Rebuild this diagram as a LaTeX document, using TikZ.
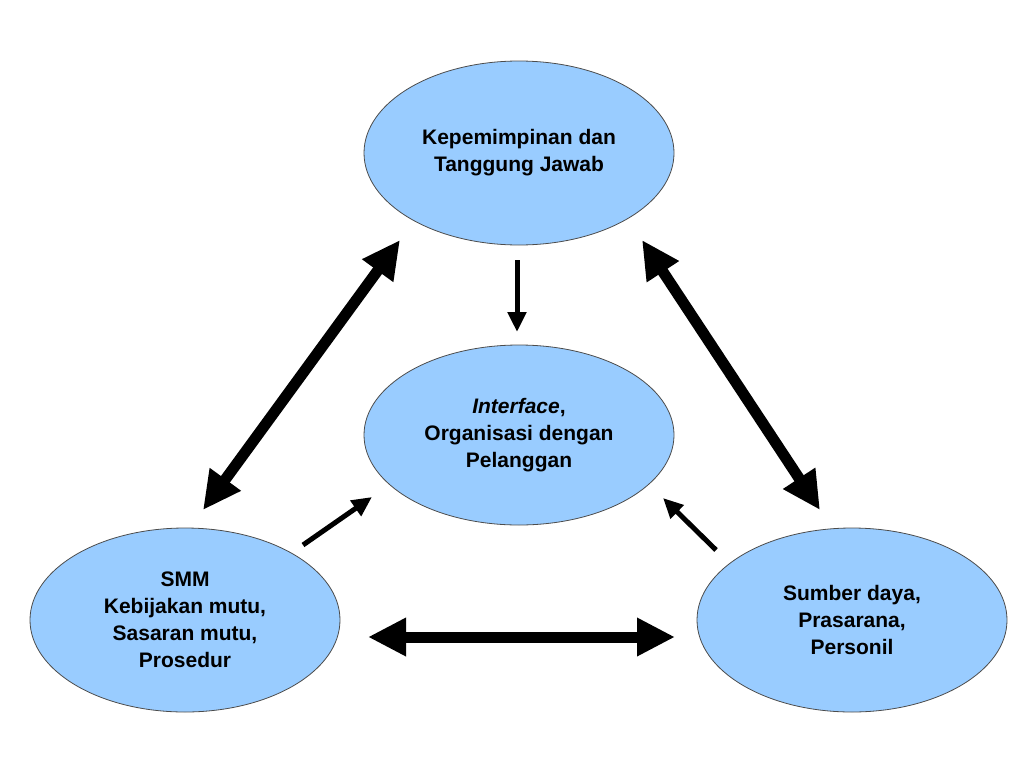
\documentclass[tikz,border=0pt]{standalone}
\usepackage{fontspec}
\setmainfont{Liberation Sans}
\usetikzlibrary{arrows.meta,shapes.geometric}
\begin{document}
\begin{tikzpicture}[x=1pt,y=-1pt,
  ell/.style={ellipse,draw=black!70,line width=0.8pt,fill={rgb,255:red,153;green,204;blue,255},minimum width=310pt,align=center,font=\bfseries\fontsize{21}{27}\selectfont},
  big/.style={line width=11pt,{Triangle[length=38pt,width=36pt]}-{Triangle[length=38pt,width=36pt]}},
  small/.style={line width=5pt,-{Triangle[length=20pt,width=18pt]}}]
\useasboundingbox (0,0) rectangle (1024,768);
\node[ell,minimum height=184pt] (top) at (519,153) {Kepemimpinan dan\\Tanggung Jawab};
\node[ell,minimum height=180pt] (mid) at (519,435) {\textit{Interface},\\Organisasi dengan\\Pelanggan};
\node[ell,minimum height=184pt] (left) at (185,620) {SMM\\Kebijakan mutu,\\Sasaran mutu,\\Prosedur};
\node[ell,minimum height=184pt] (right) at (852,620) {Sumber daya,\\Prasarana,\\Personil};
\coordinate (a1) at (203,510); \coordinate (a2) at (400,240);
\coordinate (b1) at (642,240); \coordinate (b2) at (820,510);
\coordinate (c1) at (368,637); \coordinate (c2) at (675,637);
\coordinate (d1) at (517,260); \coordinate (d2) at (517,332);
\coordinate (e1) at (303,545); \coordinate (e2) at (372,497);
\coordinate (f1) at (716,550); \coordinate (f2) at (663,498);
\draw[big] (a1) -- (a2);
\draw[big] (b1) -- (b2);
\draw[big] (c1) -- (c2);
\draw[small] (d1) -- (d2);
\draw[small] (e1) -- (e2);
\draw[small] (f1) -- (f2);
\end{tikzpicture}
\end{document}
